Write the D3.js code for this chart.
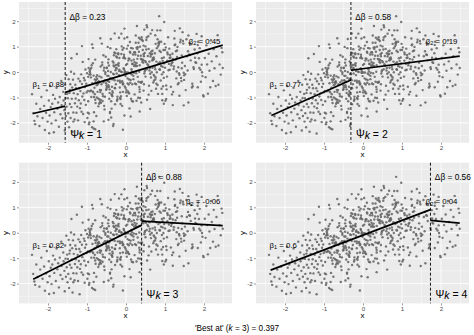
<!DOCTYPE html>
<html>
<head>
<meta charset="utf-8">
<script src="https://cdn.jsdelivr.net/npm/d3@7/dist/d3.min.js"></script>
<style>
  html, body { margin: 0; padding: 0; background: #fff; }
  svg { display: block; font-family: "Liberation Sans", Arial, Helvetica, sans-serif; }
</style>
</head>
<body>
<script>
// Simulated sample shared by every panel: [x, y]
const points = [
[-2.41,-0.87],[-2.38,-1.62],[-2.35,-1.92],[-2.33,-2.05],[-2.3,-1.25],[-2.27,-1.74],[-2.22,-2.12],[-2.2,-1.45],[-2.17,-0.98],[-2.14,-1.81],[-2.1,-1.33],[-2.08,-2.28],[-2.05,-1.6],[-2.03,-0.72],[-2.01,-1.95],[-1.97,-2.41],
[-1.98,-1.12],[-1.96,-1.71],[-1.95,-0.55],[-1.93,-1.38],[-1.91,-2.02],[-1.89,-1.25],[-1.87,-0.9],[-1.85,-2.37],[-1.84,-1.58],[-1.82,-1.05],[-1.8,-1.9],[-1.78,-0.62],[-1.76,-1.44],[-1.74,-1.2],[-1.72,-2.15],[-1.7,-0.98],[-1.68,-1.66],[-1.66,-0.35],[-1.65,-1.3],[-1.63,-1.82],[-1.61,-0.78],[-1.6,-1.12],[-1.58,-1.5],[-1.57,-2.3],[-1.56,-0.5],[-1.55,-1.02],[-1.54,-1.73],[-1.53,-0.12],[-1.52,-1.36],[-1.51,-0.86],[-1.5,-1.95],
[-1.49,-1.03],[-1.48,-1.62],[-1.47,-0.28],[-1.46,-2.17],[-1.45,-0.82],[-1.44,-1.26],[-1.43,-0.48],[-1.42,-1.81],[-1.41,0.01],[-1.4,-1.38],[-1.39,-1.05],[-1.38,-0.61],[-1.37,-2.35],[-1.36,-0.3],[-1.35,-1.59],[-1.34,-0.83],[-1.33,-0.07],[-1.32,-1.87],[-1.31,-1.23],[-1.3,-0.5],[-1.29,-1.04],[-1.28,-0.64],[-1.27,-1.6],[-1.26,0.71],[-1.25,-1.36],[-1.24,-0.87],[-1.23,-1.9],[-1.22,-0.26],[-1.21,-1.11],[-1.2,-0.64],[-1.19,-2.42],[-1.18,-0.36],[-1.17,-0.75],[-1.16,-1.24],[-1.15,-0.09],[-1.14,-1.56],[-1.13,-0.47],[-1.12,-0.96],[-1.11,0.4],[-1.1,-1.65],[-1.09,-0.84],[-1.08,-0.23],[-1.07,-1.1],[-1.06,-1.97],[-1.05,-0.59],[-1.04,0.1],[-1.03,-1.29],[-1.02,-0.46],[-1.01,-0.8],[-1.0,-0.05],
[-1.4,0.54],[-1.13,1.02],[-1.35,-1.95],[-1.18,-1.42],[-1.06,-0.32],[-1.44,-0.7],
[-0.99,-1.81],[-0.98,-0.74],[-0.98,-1.6],[-0.97,-1.15],[-0.97,-0.19],[-0.96,0.51],[-0.96,0.16],[-0.95,-1.63],[-0.94,-1.98],[-0.94,-0.1],[-0.93,0.03],[-0.93,-0.76],[-0.92,-0.03],[-0.92,0.1],[-0.91,-0.1],[-0.9,-0.72],[-0.9,-0.21],[-0.89,0.16],[-0.89,-0.98],[-0.88,0.27],[-0.87,1.09],[-0.87,-2.17],[-0.86,-0.76],[-0.86,-0.44],[-0.85,0.95],[-0.85,0.35],[-0.84,-0.8],[-0.83,-1.94],[-0.83,-0.14],[-0.82,-1.58],[-0.82,-0.98],[-0.81,-0.62],[-0.8,-0.29],[-0.8,-0.87],[-0.79,-1.09],[-0.79,0.49],[-0.78,-0.4],[-0.78,-1.22],[-0.77,-0.31],[-0.76,-0.19],[-0.76,-1.73],[-0.75,-1.0],[-0.75,-0.52],[-0.74,-0.27],[-0.74,-0.12],[-0.73,-0.78],[-0.72,-0.48],[-0.72,-0.4],[-0.71,-1.35],[-0.71,-1.04],[-0.7,-0.36],[-0.69,-0.41],[-0.69,-1.25],[-0.68,-1.08],[-0.68,-0.17],[-0.67,-0.7],[-0.67,-1.19],[-0.66,-0.79],[-0.65,0.22],[-0.65,-1.1],
[-0.64,-1.21],[-0.64,-0.71],[-0.63,-0.21],[-0.63,-0.48],[-0.62,1.12],[-0.61,0.38],[-0.61,0.28],[-0.6,-0.86],[-0.6,-1.14],[-0.59,-0.95],[-0.58,-0.4],[-0.58,0.66],[-0.57,0.06],[-0.57,-1.94],[-0.56,0.17],[-0.56,-1.33],[-0.55,-1.47],[-0.54,-0.97],[-0.54,-0.33],[-0.53,-0.01],[-0.53,-0.08],[-0.52,0.6],[-0.51,-0.7],[-0.51,-0.44],[-0.5,0.16],[-0.5,-0.67],
[-0.66,1.33],[-0.83,-2.22],[-0.79,-2.25],[-0.95,-2.05],
[-0.5,-0.53],[-0.49,-0.6],[-0.49,0.17],[-0.48,-0.15],[-0.48,-0.32],[-0.47,-0.35],[-0.47,0.99],[-0.46,0.04],[-0.46,0.37],[-0.45,0.5],[-0.45,-0.15],[-0.45,-0.52],[-0.44,0.26],[-0.44,-0.59],[-0.43,-1.05],[-0.43,-0.38],[-0.42,-0.68],[-0.42,-0.82],[-0.41,-1.57],[-0.41,-1.61],[-0.4,-0.23],[-0.4,0.94],[-0.39,1.3],[-0.39,0.0],[-0.38,-1.15],[-0.38,-1.79],[-0.37,-1.44],[-0.37,-0.88],[-0.36,-0.58],[-0.36,-0.9],[-0.35,-0.95],[-0.35,-0.29],[-0.35,-0.75],[-0.34,-0.81],[-0.34,0.42],[-0.33,-0.26],[-0.33,-0.07],[-0.32,0.37],[-0.32,0.26],[-0.31,-0.09],[-0.31,0.66],[-0.3,0.77],[-0.3,0.22],[-0.29,-0.63],[-0.29,-0.32],[-0.28,-0.64],[-0.28,-1.27],[-0.27,0.74],[-0.27,0.07],[-0.26,-0.48],[-0.26,0.28],[-0.25,0.9],[-0.25,0.16],[-0.25,0.61],[-0.24,0.14],[-0.24,-0.06],[-0.23,0.57],[-0.23,-1.13],[-0.22,-0.97],[-0.22,-1.07],
[-0.21,0.29],[-0.21,-0.34],[-0.2,0.74],[-0.2,0.7],[-0.19,0.35],[-0.19,0.25],[-0.18,0.04],[-0.18,-0.12],[-0.17,0.55],[-0.17,0.09],[-0.16,-0.61],[-0.16,-0.34],[-0.15,-0.8],[-0.15,-1.02],[-0.15,-0.41],[-0.14,-1.06],[-0.14,-1.26],[-0.13,0.02],[-0.13,-0.95],[-0.12,0.71],[-0.12,1.51],[-0.11,1.01],[-0.11,0.0],[-0.1,-0.36],[-0.1,-1.33],[-0.09,0.88],[-0.09,-0.42],[-0.08,-0.49],[-0.08,-0.78],[-0.07,-0.46],[-0.07,0.55],[-0.06,0.95],[-0.06,0.15],[-0.05,0.11],[-0.05,0.68],[-0.05,0.59],[-0.04,1.32],[-0.04,-0.03],[-0.03,0.03],[-0.03,-0.57],[-0.02,0.53],[-0.02,-0.03],[-0.01,-0.16],[-0.01,-0.63],[0.0,-0.8],
[-0.29,1.52],[-0.04,1.71],[-0.32,-2.04],[-0.33,-2.12],[-0.08,-2.27],[-0.04,-1.71],[-0.45,-1.88],[-0.18,1.35],
[0.0,0.28],[0.01,-0.02],[0.01,-0.71],[0.02,-0.94],[0.02,0.92],[0.03,0.32],[0.03,1.37],[0.04,-0.25],[0.04,-0.45],[0.05,-0.02],[0.05,-0.76],[0.05,1.04],[0.06,-0.81],[0.06,0.45],[0.07,0.53],[0.07,-0.49],[0.08,-0.29],[0.08,-0.84],[0.09,0.52],[0.09,-1.43],[0.1,0.8],[0.1,1.18],[0.11,0.76],[0.11,-0.42],[0.12,-0.06],[0.12,-0.31],[0.13,-1.05],[0.13,0.95],[0.14,0.45],[0.14,0.11],[0.15,-1.14],[0.15,-0.1],[0.15,0.02],[0.16,-0.48],[0.16,0.33],[0.17,0.93],[0.17,0.31],[0.18,-1.16],[0.18,0.69],[0.19,-0.28],[0.19,-0.15],[0.2,-0.03],[0.2,0.49],[0.21,0.78],[0.21,0.24],[0.22,0.39],[0.22,-0.88],[0.23,-0.45],[0.23,0.78],[0.24,0.3],[0.24,0.69],[0.25,1.44],[0.25,0.24],[0.25,1.15],[0.26,-0.48],[0.26,-0.05],[0.27,0.96],[0.27,0.36],[0.28,1.81],[0.28,0.24],
[0.29,0.52],[0.29,0.91],[0.3,-0.19],[0.3,0.98],[0.31,0.64],[0.31,-1.01],[0.32,-0.38],[0.32,1.15],[0.33,1.35],[0.33,0.8],[0.34,0.01],[0.34,-0.59],[0.35,0.27],[0.35,-0.78],[0.35,-0.68],[0.36,1.0],[0.36,-1.02],[0.37,-0.4],[0.37,1.29],[0.38,0.64],[0.38,0.52],[0.39,-0.42],[0.39,-1.2],[0.4,0.49],[0.4,1.37],[0.41,-0.38],[0.41,1.27],[0.42,0.5],[0.42,0.4],[0.43,0.87],[0.43,1.22],[0.44,0.47],[0.44,0.37],[0.45,-0.73],[0.45,1.04],[0.45,0.7],[0.46,-0.48],[0.46,0.62],[0.47,1.67],[0.47,-0.06],[0.48,0.02],[0.48,0.75],[0.49,0.44],[0.49,0.07],[0.5,-0.18],
[0.27,-1.13],[0.12,-1.75],[0.35,-1.55],
[0.5,1.01],[0.51,0.39],[0.52,0.89],[0.52,1.26],[0.53,0.11],[0.53,1.36],[0.54,1.76],[0.54,-1.09],[0.55,0.31],[0.56,0.63],[0.53,1.84],[0.57,1.41],[0.57,0.26],[0.58,-0.89],[0.58,0.91],[0.59,-0.54],[0.6,0.06],[0.6,0.41],[0.61,0.74],[0.61,0.16],[0.62,-0.07],[0.63,1.51],[0.63,0.61],[0.64,-0.21],[0.64,0.69],[0.65,0.81],[0.65,-0.74],[0.66,-0.01],[0.67,0.46],[0.67,0.71],[0.68,0.84],[0.68,0.17],[0.69,0.47],[0.69,0.54],[0.7,-0.41],[0.71,-0.11],[0.71,0.57],[0.72,0.51],[0.72,-0.33],[0.73,-0.16],[0.74,0.74],[0.74,0.21],[0.75,-0.29],[0.75,0.11],[0.76,1.11],[0.76,-0.21],[0.77,-0.66],[0.78,0.41],[0.78,-0.46],[0.79,-0.01],[0.79,0.94],[0.8,1.64],[0.81,1.29],[0.81,-0.51],[0.82,-0.86],[0.82,1.01],[0.83,1.14],[0.83,0.34],[0.84,1.07],[0.85,1.19],
[0.85,1.14],[0.86,0.11],[0.86,0.84],[0.87,0.39],[0.87,0.09],[0.88,1.64],[0.89,-0.33],[0.89,0.79],[0.9,0.24],[0.9,1.19],[0.91,-0.66],[0.92,0.54],[0.92,-0.09],[0.93,-1.11],[0.93,-0.86],[0.94,0.21],[0.94,0.44],[0.95,-0.56],[0.96,0.87],[0.96,-0.01],[0.97,0.57],[0.97,-0.23],[0.98,1.97],[0.98,0.34],[0.99,1.11],[1.0,0.17],
[0.85,2.2],[0.67,1.65],[0.97,-1.25],[0.62,-1.45],[0.75,1.45],
[1.0,0.87],[1.01,-1.13],[1.02,0.97],[1.03,-0.53],[1.04,-0.68],[1.05,-0.18],[1.06,0.45],[1.06,0.77],[1.07,0.7],[1.08,1.37],[1.09,0.07],[1.1,0.32],[1.11,0.92],[1.12,0.09],[1.12,0.55],[1.13,0.67],[1.14,0.57],[1.15,-0.58],[1.16,0.27],[1.17,0.35],[1.18,-0.88],[1.19,0.39],[1.19,0.72],[1.2,0.52],[1.21,-0.78],[1.22,0.12],[1.23,0.22],[1.24,1.32],[1.25,1.05],[1.25,1.62],[1.26,1.09],[1.27,0.49],[1.28,0.82],[1.29,-0.25],[1.3,0.02],[1.31,0.59],[1.31,0.85],[1.32,0.99],[1.33,-0.48],[1.34,0.19],[1.35,-0.43],[1.36,-0.05],[1.37,-0.11],[1.37,-0.93],[1.38,1.72],[1.39,1.17],[1.4,1.27],[1.41,-0.23],[1.42,-0.35],[1.43,0.15],[1.43,0.65],[1.44,0.37],[1.45,1.57],[1.46,1.22],[1.47,1.12],[1.48,-0.03],[1.49,-0.31],[1.49,-0.13],
[1.03,-1.06],[1.48,-1.31],[1.2,-1.3],
[1.51,0.24],[1.52,-0.08],[1.53,-0.71],[1.55,1.29],[1.56,0.62],[1.58,0.06],[1.59,0.82],[1.6,1.44],[1.62,0.69],[1.63,1.14],[1.64,0.67],[1.66,0.46],[1.67,1.09],[1.69,-0.61],[1.7,-0.46],[1.71,-0.56],[1.73,0.19],[1.74,0.12],[1.76,0.89],[1.77,0.56],[1.78,0.39],[1.8,0.36],[1.81,1.5],[1.83,0.74],[1.84,1.06],[1.85,1.19],[1.87,0.54],[1.88,0.16],[1.89,0.94],[1.91,0.09],[1.92,-0.38],[1.94,0.29],[1.95,-0.01],[1.96,-0.16],[1.98,-0.91],[1.99,-0.96],
[1.94,1.41],[1.84,-0.6],[1.6,-1.2],
[2.02,0.55],[2.04,-0.2],[2.06,1.05],[2.08,0.3],[2.1,-0.85],[2.12,0.72],[2.14,0.05],[2.16,-0.6],[2.18,1.25],[2.2,0.42],[2.23,-0.35],[2.25,0.9],[2.27,0.15],[2.3,-0.55],[2.32,0.62],[2.35,1.45],[2.37,-0.5],[2.4,0.3],[2.43,-0.1],[2.45,0.95],[2.47,0.78],[2.48,0.16]
];

// One panel per candidate breakpoint k
const kValues   = [1, 2, 3, 4];
const breakX    = [-1.56, -0.31, 0.40, 1.73];
const beta1     = ["0.88", "0.77", "0.82", "0.6"];
const beta2     = ["0.45", "0.19", "-0.06", "0.04"];
const deltaBeta = ["0.23", "0.58", "0.88", "0.56"];
// fitted segments: [x0, y0, x1, y1] left and right of each breakpoint
const leftFit  = [[-2.38,-1.63,-1.56,-1.34], [-2.35,-1.71,-0.31,-0.31], [-2.38,-1.83,0.40,0.30], [-2.37,-1.47,1.73,0.91]];
const rightFit = [[-1.56,-0.80,2.48,1.06], [-0.31,0.07,2.48,0.63], [0.40,0.46,2.48,0.28], [1.73,0.49,2.48,0.38]];

const xTicks = [-2, -1, 0, 1, 2];
const yTicks = [-2, -1, 0, 1, 2];
const xMinor = [-2.5, -1.5, -0.5, 0.5, 1.5, 2.5];
const yMinor = [-2.5, -1.5, -0.5, 0.5, 1.5, 2.5];

const bestK = 3;
const bestAt = "0.397";

const W = 474, H = 335;
const origins = [[0, 0], [237, 0], [0, 160.7], [237, 160.7]];
const area = { left: 19, right: 232, top: 2, bottom: 142.7 };

const x = d3.scaleLinear().domain([-2.744, 2.718]).range([area.left, area.right]);
const y = d3.scaleLinear().domain([-2.78, 2.756]).range([area.bottom, area.top]);

const svg = d3.select("body").append("svg").attr("width", W).attr("height", H);

kValues.forEach((k, i) => {
  const g = svg.append("g").attr("transform", `translate(${origins[i][0]},${origins[i][1]})`);

  // panel background
  g.append("rect")
    .attr("x", area.left).attr("y", area.top)
    .attr("width", area.right - area.left).attr("height", area.bottom - area.top)
    .attr("fill", "#ebebeb");

  // grid
  const grid = g.append("g");
  grid.selectAll(".vminor").data(xMinor.filter(v => v > x.domain()[0] && v < x.domain()[1]))
    .join("line").attr("x1", d => x(d)).attr("x2", d => x(d))
    .attr("y1", area.top).attr("y2", area.bottom)
    .attr("stroke", "#fff").attr("stroke-width", 0.4);
  grid.selectAll(".hminor").data(yMinor.filter(v => v > y.domain()[0] && v < y.domain()[1]))
    .join("line").attr("y1", d => y(d)).attr("y2", d => y(d))
    .attr("x1", area.left).attr("x2", area.right)
    .attr("stroke", "#fff").attr("stroke-width", 0.4);
  grid.selectAll(".vmajor").data(xTicks)
    .join("line").attr("x1", d => x(d)).attr("x2", d => x(d))
    .attr("y1", area.top).attr("y2", area.bottom)
    .attr("stroke", "#fff").attr("stroke-width", 0.85);
  grid.selectAll(".hmajor").data(yTicks)
    .join("line").attr("y1", d => y(d)).attr("y2", d => y(d))
    .attr("x1", area.left).attr("x2", area.right)
    .attr("stroke", "#fff").attr("stroke-width", 0.85);

  // points
  g.append("g").selectAll("circle").data(points).join("circle")
    .attr("cx", d => x(d[0])).attr("cy", d => y(d[1]))
    .attr("r", 1.2)
    .attr("fill", "#646464").attr("fill-opacity", 0.88);

  // fitted piecewise lines
  [leftFit[i], rightFit[i]].forEach(s => {
    g.append("line")
      .attr("x1", x(s[0])).attr("y1", y(s[1]))
      .attr("x2", x(s[2])).attr("y2", y(s[3]))
      .attr("stroke", "#000").attr("stroke-width", 1.7);
  });

  // breakpoint
  g.append("line")
    .attr("x1", x(breakX[i])).attr("x2", x(breakX[i]))
    .attr("y1", area.top).attr("y2", area.bottom)
    .attr("stroke", "#000").attr("stroke-width", 0.9)
    .attr("stroke-dasharray", "3,2");

  // axes
  const ax = g.append("g").attr("transform", `translate(0,${area.bottom})`)
    .call(d3.axisBottom(x).tickValues(xTicks).tickSize(2).tickPadding(1.2).tickFormat(d3.format("d")));
  const ay = g.append("g").attr("transform", `translate(${area.left},0)`)
    .call(d3.axisLeft(y).tickValues(yTicks).tickSize(2).tickPadding(1.2).tickFormat(d3.format("d")));
  [ax, ay].forEach(a => {
    a.select(".domain").remove();
    a.selectAll(".tick line").attr("stroke", "#333").attr("stroke-width", 0.5);
    a.selectAll(".tick text").attr("fill", "#4d4d4d").attr("font-size", 6.2)
      .attr("font-family", "Liberation Sans, Arial, sans-serif");
  });
  ay.selectAll(".tick text").text(d => d < 0 ? "-" + Math.abs(d) : d);
  ax.selectAll(".tick text").text(d => d < 0 ? "-" + Math.abs(d) : d);

  // axis titles
  g.append("text").attr("x", (area.left + area.right) / 2).attr("y", 157)
    .attr("text-anchor", "middle").attr("font-size", 8).attr("fill", "#000").text("x");
  g.append("text")
    .attr("transform", `translate(7.5,${(area.top + area.bottom) / 2}) rotate(-90)`)
    .attr("text-anchor", "middle").attr("font-size", 8).attr("fill", "#000").text("y");

  // annotations
  g.append("text")
    .attr("x", x(breakX[i]) + 4.4).attr("y", y(2.18)).attr("dy", "0.35em")
    .attr("font-size", 8.3).attr("fill", "#000")
    .text(`Δβ = ${deltaBeta[i]}`);

  const b1 = g.append("text")
    .attr("x", x(-2.40)).attr("y", y(-0.48)).attr("dy", "0.35em")
    .attr("font-size", 7.8).attr("fill", "#000");
  b1.append("tspan").text("β");
  b1.append("tspan").attr("font-size", 5.6).attr("dy", 1.6).text("1");
  b1.append("tspan").attr("dy", -1.6).text(` = ${beta1[i]}`);

  const b2 = g.append("text")
    .attr("x", x(2.42)).attr("y", y(1.23)).attr("dy", "0.35em")
    .attr("text-anchor", "end")
    .attr("font-size", 7.8).attr("fill", "#000");
  b2.append("tspan").text("β");
  b2.append("tspan").attr("font-size", 5.6).attr("dy", 1.6).text("2");
  b2.append("tspan").attr("dy", -1.6).text(` = ${beta2[i]}`);

  const psi = g.append("text")
    .attr("x", x(breakX[i]) + 5).attr("y", y(-2.44)).attr("dy", "0.35em")
    .attr("font-size", 10.5).attr("fill", "#000");
  psi.append("tspan").text("Ψ");
  psi.append("tspan").attr("font-style", "italic").attr("dy", 1).text("k");
  psi.append("tspan").attr("dy", -1).text(` = ${k}`);
});

// caption
const cap = svg.append("text")
  .attr("x", W / 2).attr("y", 327.7).attr("dy", "0.35em")
  .attr("text-anchor", "middle").attr("font-size", 8.2).attr("fill", "#000");
cap.append("tspan").text("'Best at' (");
cap.append("tspan").attr("font-style", "italic").text("k");
cap.append("tspan").text(` = ${bestK}) = ${bestAt}`);
</script>
</body>
</html>
